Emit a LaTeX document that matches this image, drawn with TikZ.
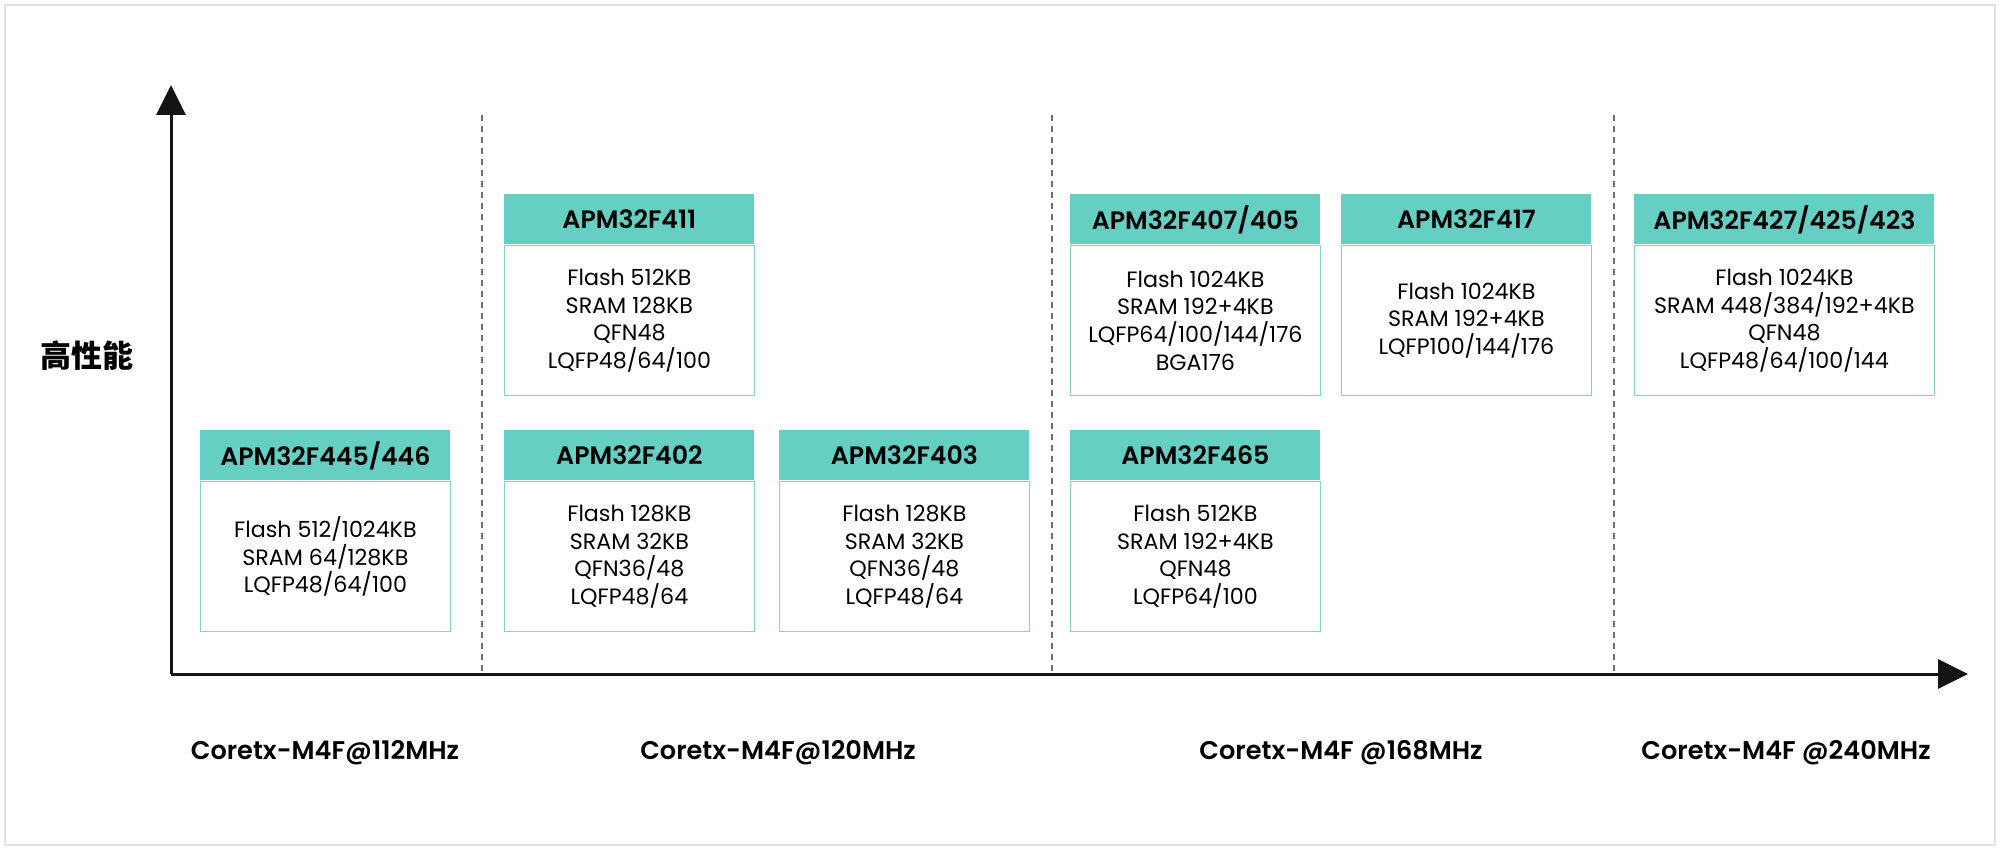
\documentclass[tikz,border=0pt]{standalone}
\usepackage{fontspec}
\setmainfont{Poppins}[BoldFont={Poppins SemiBold}]
\newfontfamily\cjkfont{Noto Sans CJK SC}
\usetikzlibrary{arrows.meta}

\definecolor{headteal}{HTML}{66CFC4}
\definecolor{bodyteal}{HTML}{7FD6CD}
\definecolor{framegray}{HTML}{E2E2E2}
\definecolor{dashgray}{HTML}{6E6E6E}
\definecolor{axisblack}{HTML}{141414}

\begin{document}
\begin{tikzpicture}[
		x=0.5pt, y=-0.5pt,
		chiphead/.style={
			fill=headteal,
			anchor=north west,
			minimum width=125pt,
			minimum height=25pt,
			inner sep=0pt,
			font=\fontsize{12.6}{14}\selectfont\bfseries
		},
		chipbody/.style={
			draw=bodyteal,
			line width=0.8pt,
			anchor=north,
			align=center,
			minimum width=125pt,
			minimum height=75pt,
			inner sep=0pt,
			font=\fontsize{11.1}{13.85}\selectfont
		},
		axis/.style={draw=axisblack, line width=1.5pt, -{Triangle[width=14.5pt,length=15pt]}},
		divider/.style={draw=dashgray, line width=0.6pt, dash pattern=on 3pt off 2.5pt},
		freqlabel/.style={font=\fontsize{12.8}{15}\selectfont\bfseries}
		]
		
		% frame
		\useasboundingbox (0,0) rectangle (2000,850);
		\draw[framegray, line width=1.2pt] (5,5) rectangle (1995,845);
		
		% axes
		\coordinate (origin) at (171,674);
		\coordinate (ytip) at (171,85);
		\coordinate (xtip) at (1968,674);
		\draw[axis] (origin) -- (ytip);
		\draw[axis] (origin) -- (xtip);
		\node[font=\cjkfont\fontsize{15.5}{16}\selectfont\bfseries] (perf) at (87,356) {高性能};
		
		% frequency groups
		\foreach \x/\name in {482/d1, 1052/d2, 1614/d3} {
			\coordinate (\name top) at (\x,115);
			\coordinate (\name bot) at (\x,674);
			\draw[divider] (\name top) -- (\name bot);
		}
		
		% 112MHz
		\node[chiphead] (f445h) at (200,430) {APM32F445/446};
		\node[chipbody] (f445b) at (f445h.south) {Flash 512/1024KB\\SRAM 64/128KB\\LQFP48/64/100};
		
		% 120MHz
		\node[chiphead] (f411h) at (504,194) {APM32F411};
		\node[chipbody] (f411b) at (f411h.south) {Flash 512KB\\SRAM 128KB\\QFN48\\LQFP48/64/100};
		
		\node[chiphead] (f402h) at (504,430) {APM32F402};
		\node[chipbody] (f402b) at (f402h.south) {Flash 128KB\\SRAM 32KB\\QFN36/48\\LQFP48/64};
		
		\node[chiphead] (f403h) at (779,430) {APM32F403};
		\node[chipbody] (f403b) at (f403h.south) {Flash 128KB\\SRAM 32KB\\QFN36/48\\LQFP48/64};
		
		% 168MHz
		\node[chiphead] (f407h) at (1070,194) {APM32F407/405};
		\node[chipbody] (f407b) at (f407h.south) {Flash 1024KB\\SRAM 192+4KB\\LQFP64/100/144/176\\BGA176};
		
		\node[chiphead] (f417h) at (1341,194) {APM32F417};
		\node[chipbody] (f417b) at (f417h.south) {Flash 1024KB\\SRAM 192+4KB\\LQFP100/144/176};
		
		\node[chiphead] (f465h) at (1070,430) {APM32F465};
		\node[chipbody] (f465b) at (f465h.south) {Flash 512KB\\SRAM 192+4KB\\QFN48\\LQFP64/100};
		
		% 240MHz
		\node[chiphead, minimum width=150pt] (f427h) at (1634,194) {APM32F427/425/423};
		\node[chipbody, minimum width=150pt] (f427b) at (f427h.south) {Flash 1024KB\\SRAM 448/384/192+4KB\\QFN48\\LQFP48/64/100/144};
		
		% frequency labels
		\node[freqlabel] (lab112) at (325,753) {Coretx-M4F@112MHz};
		\node[freqlabel] (lab120) at (778,753) {Coretx-M4F@120MHz};
		\node[freqlabel] (lab168) at (1341,753) {Coretx-M4F @168MHz};
		\node[freqlabel] (lab240) at (1786,753) {Coretx-M4F @240MHz};
		
	\end{tikzpicture}
\end{document}
